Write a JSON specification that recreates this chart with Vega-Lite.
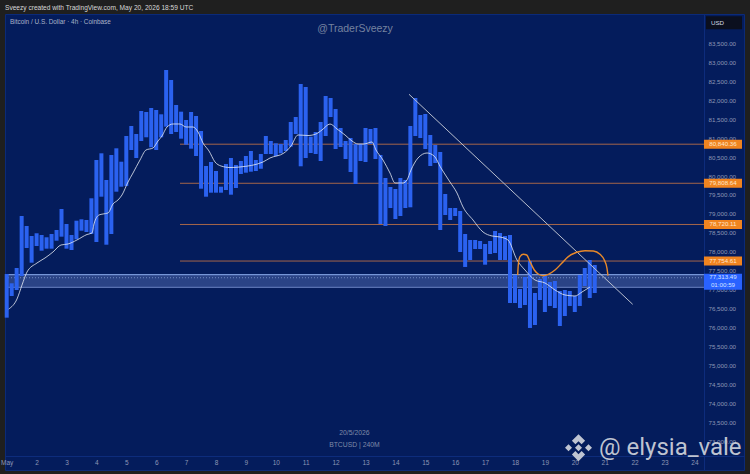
{"$schema":"https://vega.github.io/schema/vega-lite/v6.json","width":739,"height":456,"autosize":{"type":"none"},"padding":{"left":5,"top":14,"right":6,"bottom":4},"background":"#1f1f1f","config":{"view":{"fill":"#041c5c","stroke":"#0b2a78"},"font":"Liberation Sans","axis":{"labelOverlap":false,"labelBound":false,"labelFlush":false}},"title":{"text":"Sveezy created with TradingView.com, May 20, 2026 18:59 UTC","anchor":"start","frame":"group","fontSize":6.6,"fontWeight":"normal","color":"#d8d8d8","offset":2,"font":"Liberation Sans"},"datasets":{"candles":[{"t":1.0,"a":77413,"b":76259},{"t":1.167,"a":77167,"b":76832},{"t":1.333,"a":77571,"b":76990},{"t":1.5,"a":78944,"b":77360},{"t":1.667,"a":78680,"b":78099},{"t":1.833,"a":78416,"b":77711},{"t":2.0,"a":78488,"b":78152},{"t":2.167,"a":78443,"b":78028},{"t":2.333,"a":78382,"b":78081},{"t":2.5,"a":78469,"b":78081},{"t":2.667,"a":78575,"b":78292},{"t":2.833,"a":79129,"b":78398},{"t":3.0,"a":78733,"b":78081},{"t":3.167,"a":78443,"b":78046},{"t":3.333,"a":78820,"b":78329},{"t":3.5,"a":78857,"b":78556},{"t":3.667,"a":78839,"b":78522},{"t":3.833,"a":79412,"b":78469},{"t":4.0,"a":80423,"b":78258},{"t":4.167,"a":80600,"b":79454},{"t":4.333,"a":79895,"b":78186},{"t":4.5,"a":80555,"b":78469},{"t":4.667,"a":80732,"b":79586},{"t":4.833,"a":80378,"b":79718},{"t":5.0,"a":81057,"b":79737},{"t":5.167,"a":81321,"b":80687},{"t":5.333,"a":81110,"b":80476},{"t":5.5,"a":81717,"b":80925},{"t":5.667,"a":81691,"b":81023},{"t":5.833,"a":81797,"b":80759},{"t":6.0,"a":81744,"b":80687},{"t":6.167,"a":81630,"b":81023},{"t":6.333,"a":82800,"b":81303},{"t":6.5,"a":82536,"b":81110},{"t":6.667,"a":81876,"b":81163},{"t":6.833,"a":81699,"b":80986},{"t":7.0,"a":81480,"b":80827},{"t":7.167,"a":81691,"b":80722},{"t":7.333,"a":81585,"b":80529},{"t":7.5,"a":81189,"b":79665},{"t":7.667,"a":80265,"b":79454},{"t":7.833,"a":80371,"b":79560},{"t":8.0,"a":80133,"b":79560},{"t":8.167,"a":79718,"b":79560},{"t":8.333,"a":80318,"b":79631},{"t":8.5,"a":80476,"b":79507},{"t":8.667,"a":80291,"b":79684},{"t":8.833,"a":80397,"b":80054},{"t":9.0,"a":80529,"b":80088},{"t":9.167,"a":80661,"b":80114},{"t":9.333,"a":80423,"b":80133},{"t":9.5,"a":80582,"b":80194},{"t":9.667,"a":81057,"b":80582},{"t":9.833,"a":80925,"b":80582},{"t":10.0,"a":80864,"b":80529},{"t":10.167,"a":80846,"b":80600},{"t":10.333,"a":80952,"b":80661},{"t":10.5,"a":81427,"b":80775},{"t":10.667,"a":81559,"b":81110},{"t":10.833,"a":82431,"b":80257},{"t":11.0,"a":82351,"b":80476},{"t":11.167,"a":81039,"b":80608},{"t":11.333,"a":81163,"b":80582},{"t":11.5,"a":81427,"b":80397},{"t":11.667,"a":82114,"b":81057},{"t":11.833,"a":82061,"b":81559},{"t":12.0,"a":81770,"b":80714},{"t":12.167,"a":81269,"b":80767},{"t":12.333,"a":80925,"b":80450},{"t":12.5,"a":81004,"b":80106},{"t":12.667,"a":80846,"b":79790},{"t":12.833,"a":80846,"b":80397},{"t":13.0,"a":81269,"b":80371},{"t":13.167,"a":81242,"b":80846},{"t":13.333,"a":81269,"b":80450},{"t":13.5,"a":80555,"b":78733},{"t":13.667,"a":79948,"b":78680},{"t":13.833,"a":79710,"b":79156},{"t":14.0,"a":79658,"b":78865},{"t":14.167,"a":79948,"b":78944},{"t":14.333,"a":79895,"b":79156},{"t":14.5,"a":81321,"b":79174},{"t":14.667,"a":82061,"b":81057},{"t":14.833,"a":81612,"b":81004},{"t":15.0,"a":81638,"b":80714},{"t":15.167,"a":81084,"b":80265},{"t":15.333,"a":80820,"b":80344},{"t":15.5,"a":80635,"b":78575},{"t":15.667,"a":79525,"b":78971},{"t":15.833,"a":79156,"b":78839},{"t":16.0,"a":79156,"b":78944},{"t":16.167,"a":79076,"b":77994},{"t":16.333,"a":78469,"b":77598},{"t":16.5,"a":78311,"b":77782},{"t":16.667,"a":78311,"b":78073},{"t":16.833,"a":78284,"b":78073},{"t":17.0,"a":78205,"b":77658},{"t":17.167,"a":78284,"b":77941},{"t":17.333,"a":78548,"b":77967},{"t":17.5,"a":78495,"b":77782},{"t":17.667,"a":78416,"b":77782},{"t":17.833,"a":78443,"b":76647},{"t":18.0,"a":77386,"b":76647},{"t":18.167,"a":77017,"b":76515},{"t":18.333,"a":77333,"b":76594},{"t":18.5,"a":77756,"b":75987},{"t":18.667,"a":76911,"b":76066},{"t":18.833,"a":77281,"b":76726},{"t":19.0,"a":77360,"b":76409},{"t":19.167,"a":77201,"b":76568},{"t":19.333,"a":77228,"b":76515},{"t":19.5,"a":76964,"b":76039},{"t":19.667,"a":76990,"b":76303},{"t":19.833,"a":76964,"b":76568},{"t":20.0,"a":76832,"b":76409},{"t":20.167,"a":77386,"b":76568},{"t":20.333,"a":77571,"b":77096},{"t":20.5,"a":77782,"b":76779},{"t":20.667,"a":77650,"b":76911}],"ma":[{"t":1.067,"p":76488},{"t":1.344,"p":76752},{"t":1.512,"p":77122},{"t":1.679,"p":77465},{"t":2.013,"p":77703},{"t":2.281,"p":77835},{"t":2.548,"p":77994},{"t":2.816,"p":78179},{"t":3.05,"p":78205},{"t":3.351,"p":78311},{"t":3.686,"p":78456},{"t":3.853,"p":78495},{"t":3.92,"p":78733},{"t":4.087,"p":78971},{"t":4.221,"p":78997},{"t":4.388,"p":79024},{"t":4.555,"p":79261},{"t":4.722,"p":79367},{"t":4.856,"p":79499},{"t":5.057,"p":79842},{"t":5.224,"p":80080},{"t":5.458,"p":80423},{"t":5.659,"p":80687},{"t":5.893,"p":80740},{"t":6.06,"p":80925},{"t":6.194,"p":81057},{"t":6.361,"p":81295},{"t":6.562,"p":81374},{"t":6.796,"p":81374},{"t":6.997,"p":81295},{"t":7.231,"p":81295},{"t":7.398,"p":81163},{"t":7.565,"p":80872},{"t":7.766,"p":80661},{"t":7.967,"p":80371},{"t":8.167,"p":80265},{"t":8.468,"p":80225},{"t":8.803,"p":80239},{"t":9.572,"p":80371},{"t":9.806,"p":80476},{"t":10.274,"p":80608},{"t":10.508,"p":80793},{"t":10.742,"p":81084},{"t":11.077,"p":81070},{"t":11.344,"p":81110},{"t":11.545,"p":81216},{"t":11.813,"p":81374},{"t":12.047,"p":81242},{"t":12.314,"p":81084},{"t":12.548,"p":80925},{"t":12.749,"p":80846},{"t":12.95,"p":80846},{"t":13.217,"p":80899},{"t":13.351,"p":80687},{"t":13.585,"p":80423},{"t":13.819,"p":80080},{"t":13.987,"p":79816},{"t":14.254,"p":79816},{"t":14.388,"p":79895},{"t":14.522,"p":80159},{"t":14.756,"p":80476},{"t":15.057,"p":80608},{"t":15.293,"p":80529},{"t":15.525,"p":80212},{"t":15.826,"p":79842},{"t":16.06,"p":79552},{"t":16.261,"p":79182},{"t":16.595,"p":78839},{"t":16.93,"p":78522},{"t":17.231,"p":78416},{"t":17.498,"p":78390},{"t":17.765,"p":78311},{"t":18.067,"p":77782},{"t":18.334,"p":77518},{"t":18.669,"p":77254},{"t":19.003,"p":77175},{"t":19.338,"p":76990},{"t":19.672,"p":76858},{"t":20.007,"p":76832},{"t":20.241,"p":76937},{"t":20.508,"p":77069}],"curve":[{"t":18.09,"p":77386},{"t":18.11,"p":77650},{"t":18.167,"p":77870},{"t":18.278,"p":77933},{"t":18.391,"p":77914},{"t":18.502,"p":77738},{"t":18.645,"p":77518},{"t":18.779,"p":77413},{"t":18.946,"p":77368},{"t":19.114,"p":77405},{"t":19.338,"p":77518},{"t":19.562,"p":77695},{"t":19.783,"p":77870},{"t":20.064,"p":77986},{"t":20.341,"p":78028},{"t":20.619,"p":78020},{"t":20.843,"p":77933},{"t":20.987,"p":77782},{"t":21.077,"p":77563},{"t":21.11,"p":77368}],"levels":[{"level":80840.36,"label":"80,840.36","t0":6.796,"t1":24.32,"t2":25.592,"tc":24.956,"lo":80721,"hi":80959},{"level":79808.64,"label":"79,808.64","t0":6.796,"t1":24.32,"t2":25.592,"tc":24.956,"lo":79690,"hi":79927},{"level":78720.11,"label":"78,720.11","t0":6.796,"t1":24.32,"t2":25.592,"tc":24.956,"lo":78601,"hi":78839},{"level":77754.61,"label":"77,754.61","t0":6.796,"t1":24.32,"t2":25.592,"tc":24.956,"lo":77636,"hi":77873}]},"layer":[{"data":{"values":[{"t0":0.943,"t1":24.32,"lo":77061,"hi":77394}]},"mark":{"type":"rect","fill":"#2a4386"},"encoding":{"x":{"field":"t0","type":"quantitative","title":null,"scale":{"domain":[0.943,25.659],"nice":false,"zero":false,"padding":0},"axis":{"values":[1,2,3,4,5,6,7,8,9,10,11,12,13,14,15,16,17,18,19,20,21,22,23,24],"tickCount":40,"orient":"bottom","offset":-14,"title":null,"grid":false,"ticks":false,"domain":true,"domainColor":"#0d2c7c","domainWidth":1,"labelColor":"#8d97b5","labelFontSize":6.5,"labelPadding":3,"labelFlush":false,"labelOverlap":false,"labelBound":false,"labelExpr":"datum.value==1?'May':datum.value"}},"x2":{"field":"t1"},"y":{"field":"lo","type":"quantitative","title":null,"scale":{"domain":[72236,84279],"nice":false,"zero":false,"padding":0},"axis":{"values":[83500,83000,82500,82000,81500,81000,80500,80000,79500,79000,78500,78000,77500,77000,76500,76000,75500,75000,74500,74000,73500,73000],"tickCount":40,"orient":"right","offset":-40,"title":null,"grid":false,"ticks":false,"domain":true,"domainColor":"#0d2c7c","domainWidth":1,"labelColor":"#8d97b5","labelFontSize":6.2,"labelPadding":4,"labelFlush":false,"labelOverlap":false,"labelBound":false,"format":",.2f"}},"y2":{"field":"hi"}}},{"data":{"values":[{"t0":0.943,"t1":24.32,"p":77394}]},"mark":{"type":"rule","stroke":"#8fb0f2","strokeWidth":1},"encoding":{"x":{"field":"t0","type":"quantitative","title":null},"x2":{"field":"t1"},"y":{"field":"p","type":"quantitative","title":null}}},{"data":{"values":[{"t0":0.943,"t1":24.32,"p":77061}]},"mark":{"type":"rule","stroke":"#6c84c4","strokeWidth":1},"encoding":{"x":{"field":"t0","type":"quantitative","title":null},"x2":{"field":"t1"},"y":{"field":"p","type":"quantitative","title":null}}},{"data":{"values":[{"t0":0.943,"t1":24.32,"p":77313.49}]},"mark":{"type":"rule","stroke":"#8fa6dc","strokeWidth":1,"strokeDash":[1,2],"opacity":0.7},"encoding":{"x":{"field":"t0","type":"quantitative","title":null},"x2":{"field":"t1"},"y":{"field":"p","type":"quantitative","title":null}}},{"data":{"name":"levels"},"mark":{"type":"rule","stroke":"#a5664a","strokeWidth":1},"encoding":{"x":{"field":"t0","type":"quantitative","title":null},"x2":{"field":"t1"},"y":{"field":"level","type":"quantitative","title":null}}},{"data":{"name":"candles"},"mark":{"type":"bar","fill":"#2b62f0","size":4},"encoding":{"x":{"field":"t","type":"quantitative","title":null},"y":{"field":"a","type":"quantitative","title":null},"y2":{"field":"b"}}},{"data":{"name":"ma"},"mark":{"type":"line","stroke":"#e8ecf4","strokeWidth":0.8,"interpolate":"monotone"},"encoding":{"x":{"field":"t","type":"quantitative","title":null},"y":{"field":"p","type":"quantitative","title":null}}},{"data":{"values":[{"t":14.455,"p":82159},{"t":21.936,"p":76612}]},"mark":{"type":"line","stroke":"#b9bfce","strokeWidth":1},"encoding":{"x":{"field":"t","type":"quantitative","title":null},"y":{"field":"p","type":"quantitative","title":null}}},{"data":{"name":"curve"},"mark":{"type":"line","stroke":"#e8892a","strokeWidth":1.4,"interpolate":"monotone"},"encoding":{"x":{"field":"t","type":"quantitative","title":null},"y":{"field":"p","type":"quantitative","title":null}}},{"data":{"name":"levels"},"mark":{"type":"rect","fill":"#f08420"},"encoding":{"x":{"field":"t1","type":"quantitative","title":null},"x2":{"field":"t2"},"y":{"field":"lo","type":"quantitative","title":null},"y2":{"field":"hi"}}},{"data":{"name":"levels"},"mark":{"type":"text","fontSize":6.2,"color":"#ffe6cc","align":"center","baseline":"middle"},"encoding":{"x":{"field":"tc","type":"quantitative","title":null},"y":{"field":"level","type":"quantitative","title":null},"text":{"field":"label"}}},{"data":{"values":[{"t1":24.32,"t2":25.592,"lo":76998,"hi":77421}]},"mark":{"type":"rect","fill":"#2962ff"},"encoding":{"x":{"field":"t1","type":"quantitative","title":null},"x2":{"field":"t2"},"y":{"field":"lo","type":"quantitative","title":null},"y2":{"field":"hi"}}},{"data":{"values":[{"t":24.956,"p":77320,"label":"77,313.49"},{"t":24.956,"p":77109,"label":"01:00:59"}]},"mark":{"type":"text","fontSize":6.2,"color":"#d5e2ff","align":"center","baseline":"middle"},"encoding":{"x":{"field":"t","type":"quantitative","title":null},"y":{"field":"p","type":"quantitative","title":null},"text":{"field":"label"}}},{"data":{"values":[{"t1":24.388,"t2":25.592,"lo":83875,"hi":84219}]},"mark":{"type":"rect","fill":"#0b0f1e"},"encoding":{"x":{"field":"t1","type":"quantitative","title":null},"x2":{"field":"t2"},"y":{"field":"lo","type":"quantitative","title":null},"y2":{"field":"hi"}}},{"data":{"values":[{"t":24.555,"p":84047,"label":"USD"}]},"mark":{"type":"text","fontSize":6.2,"color":"#d8dce6","align":"left","baseline":"middle"},"encoding":{"x":{"field":"t","type":"quantitative","title":null},"y":{"field":"p","type":"quantitative","title":null},"text":{"field":"label"}}},{"data":{"values":[{"t":1.11,"p":84055,"label":"Bitcoin / U.S. Dollar · 4h · Coinbase"}]},"mark":{"type":"text","fontSize":6.4,"color":"#aab2c8","align":"left","baseline":"middle"},"encoding":{"x":{"field":"t","type":"quantitative","title":null},"y":{"field":"p","type":"quantitative","title":null},"text":{"field":"label"}}},{"data":{"values":[{"t":12.65,"p":83896,"label":"@TraderSveezy"}]},"mark":{"type":"text","fontSize":10.5,"color":"#75829f","align":"center","baseline":"middle"},"encoding":{"x":{"field":"t","type":"quantitative","title":null},"y":{"field":"p","type":"quantitative","title":null},"text":{"field":"label"}}},{"data":{"values":[{"t":12.63,"p":73214,"label":"20/5/2026"},{"t":12.63,"p":72897,"label":"BTCUSD | 240M"}]},"mark":{"type":"text","fontSize":6.8,"color":"#7f8aa8","align":"center","baseline":"middle"},"encoding":{"x":{"field":"t","type":"quantitative","title":null},"y":{"field":"p","type":"quantitative","title":null},"text":{"field":"label"}}},{"data":{"values":[{"t":20.124,"p":72825}]},"mark":{"type":"point","filled":true,"opacity":0.95,"color":"#c9cdd8","size":729,"shape":"M0,-0.26L0.26,0L0,0.26L-0.26,0ZM-1,0L-0.74,-0.26L-0.48,0L-0.74,0.26ZM1,0L0.74,-0.26L0.48,0L0.74,0.26ZM0,-1L0.49,-0.51L0.23,-0.25L0,-0.48L-0.23,-0.25L-0.49,-0.51ZM0,1L0.49,0.51L0.23,0.25L0,0.48L-0.23,0.25L-0.49,0.51Z"},"encoding":{"x":{"field":"t","type":"quantitative","title":null},"y":{"field":"p","type":"quantitative","title":null}}},{"data":{"values":[{"t":20.809,"p":72825,"label":"@ elysia_vale"}]},"mark":{"type":"text","font":"Roboto","fontSize":24,"color":"#c9cdd8","opacity":0.95,"align":"left","baseline":"middle"},"encoding":{"x":{"field":"t","type":"quantitative","title":null},"y":{"field":"p","type":"quantitative","title":null},"text":{"field":"label"}}}]}
